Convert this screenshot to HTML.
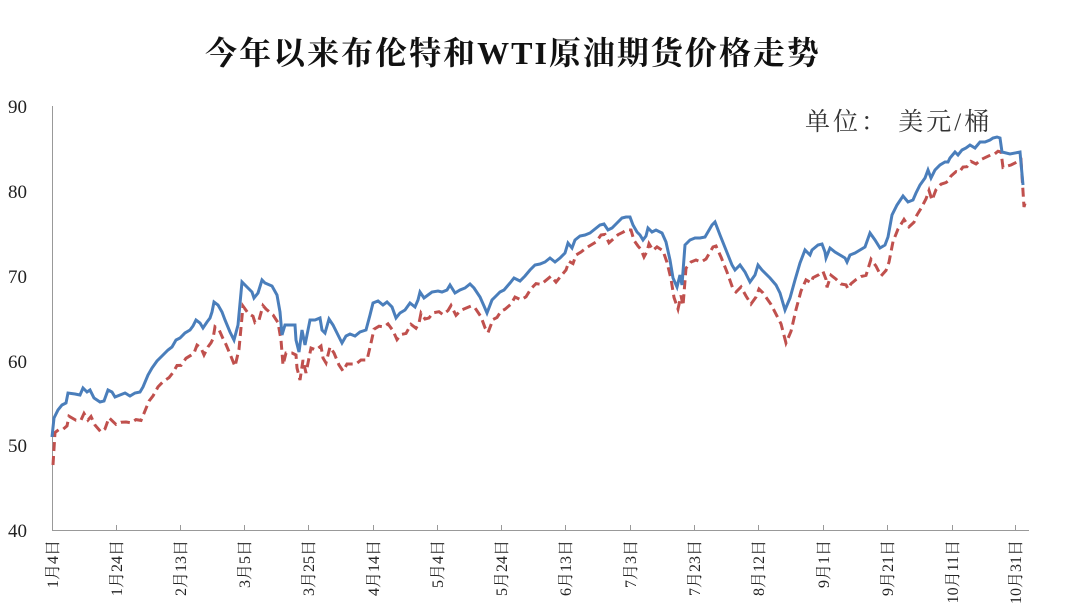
<!DOCTYPE html>
<html><head><meta charset="utf-8"><style>
html,body{margin:0;padding:0;background:#fff;}
svg{display:block;}
</style></head><body>
<svg id="s" width="1080" height="613" xmlns="http://www.w3.org/2000/svg">
<rect width="1080" height="613" fill="#fff"/>
<text x="513" y="64" text-anchor="middle" font-family="'Liberation Serif','Noto Serif CJK SC',serif" font-size="32" font-weight="bold" letter-spacing="2" fill="#111">今年以来布伦特和WTI原油期货价格走势</text>
<text x="805" y="130" font-family="'Liberation Serif','Noto Serif CJK SC',serif" font-size="25" letter-spacing="3" fill="#333">单位： 美元/桶</text>
<g font-family="'Liberation Serif',serif" font-size="19" fill="#222">
<text x="8" y="113">90</text><text x="8" y="198">80</text><text x="8" y="283">70</text>
<text x="8" y="368">60</text><text x="8" y="452">50</text><text x="8" y="537">40</text>
</g>
<line x1="52.5" y1="106" x2="52.5" y2="531" stroke="#999" stroke-width="1"/>
<line x1="52" y1="530.5" x2="1029" y2="530.5" stroke="#999" stroke-width="1"/>
<g id="ticks"></g>
<path id="wti" fill="none" stroke="#c0504d" stroke-width="3" stroke-dasharray="9,5"/>
<path id="brent" fill="none" stroke="#4a7ebb" stroke-width="3"/>
</svg>
<script>
var b=[52,437,54,418,58,410,62,405,66,403,68,393,75,394,80,395,83,388,87,392,90,390,94,398,100,402,104,401,108,390,112,392,115,397,120,395,125,393,130,396,135,393,140,392,143,387,148,375,152,368,157,361,162,356,168,350,172,347,176,340,180,338,185,333,190,330,193,326,196,320,200,323,203,328,207,322,210,318,212,312,214,302,218,305,222,312,225,320,230,332,234,340,238,325,242,282,247,287,252,292,254,298,258,293,262,280,265,283,272,286,277,295,280,312,282,335,285,325,291,325,295,325,296,340,299,352,302,330,305,345,310,320,315,320,320,318,322,330,325,333,329,319,333,325,338,335,342,343,346,336,350,334,355,336,360,332,366,330,370,315,373,303,378,301,383,305,387,302,392,307,396,318,400,313,405,310,410,303,415,307,418,300,420,292,424,298,428,295,432,292,438,291,442,292,447,290,450,285,455,293,460,290,465,288,470,284,474,288,480,297,484,306,487,313,492,300,496,296,500,292,504,290,510,283,514,278,520,281,525,276,530,270,535,265,540,264,545,262,550,258,555,262,560,258,565,253,568,243,572,248,575,240,580,236,585,235,590,233,595,229,600,225,604,224,608,230,612,228,617,223,622,218,626,217,630,217,633,225,637,232,640,235,643,240,646,236,648,228,652,232,656,230,662,233,666,242,670,260,673,278,677,287,680,275,682,285,685,245,690,240,695,238,700,238,705,237,712,225,715,222,720,235,726,250,732,265,735,270,740,265,745,272,750,282,755,275,758,265,762,270,770,278,776,285,780,293,785,310,790,298,795,280,800,263,805,250,810,255,812,250,818,245,822,244,825,252,826,258,830,248,835,252,840,255,845,258,847,262,850,255,855,253,860,250,865,247,870,233,875,240,880,248,885,245,888,237,892,215,897,205,903,196,908,202,913,200,916,193,920,185,925,178,928,170,931,178,935,170,940,165,945,162,948,162,950,158,955,152,958,155,962,150,966,148,970,145,975,148,980,142,985,142,990,140,993,138,997,137,1000,138,1002,152,1010,154,1020,152,1023,185];
var off=[[52,12],[60,22],[100,28],[150,26],[250,24],[280,28],[370,28],[380,22],[560,18],[600,10],[630,13],[690,22],[760,22],[785,33],[800,28],[880,26],[950,18],[1000,14],[1020,8],[1023,20]];
function o(x){for(var i=0;i<off.length-1;i++){if(x<=off[i+1][0]){var t=(x-off[i][0])/(off[i+1][0]-off[i][0]);return off[i][1]+t*(off[i+1][1]-off[i][1]);}}return off[off.length-1][1];}
var pb="",pw="";
for(var i=0;i<b.length;i+=2){var x=b[i],y=b[i+1];pb+=(i?"L":"M")+x+","+y;var w=y+o(x)+((i/2)%3==0?2:0);if(i==0)w=465;pw+=(i?"L":"M")+(x+1)+","+w;}
pw+="L1026,200";
document.getElementById("brent").setAttribute("d",pb);
document.getElementById("wti").setAttribute("d",pw);
var tx=[52,116,180,244,308,373,437,501,565,630,694,758,823,887,952,1015];
var lb=["1月4日","1月24日","2月13日","3月5日","3月25日","4月14日","5月4日","5月24日","6月13日","7月3日","7月23日","8月12日","9月1日","9月21日","10月11日","10月31日"];
var g=document.getElementById("ticks"),h="";
for(var k=0;k<tx.length;k++){h+='<line x1="'+(tx[k]+0.5)+'" y1="525" x2="'+(tx[k]+0.5)+'" y2="531" stroke="#999"/>';
h+='<text transform="translate('+(tx[k]+6)+',540) rotate(-90)" text-anchor="end" font-family="\'Liberation Serif\',\'Noto Serif CJK SC\',serif" font-size="16" fill="#222">'+lb[k]+'</text>';}
g.innerHTML=h;
</script>
</body></html>
